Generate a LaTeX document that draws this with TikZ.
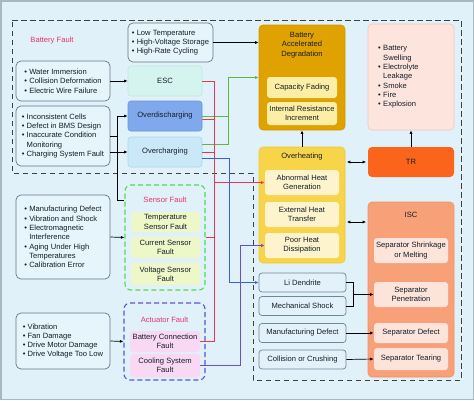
\documentclass[tikz,border=0pt]{standalone}
\usepackage{fontspec}
\setmainfont{Liberation Sans}
\usetikzlibrary{arrows.meta}
\definecolor{bg}{HTML}{E0F1FA}
\definecolor{framec}{HTML}{A9B7C0}
\definecolor{txt}{HTML}{141E28}
\definecolor{bulfill}{HTML}{E6F4FB}
\definecolor{bulline}{HTML}{66788A}
\definecolor{lblpink}{HTML}{E8336E}
\definecolor{escfill}{HTML}{D5F4EF}
\definecolor{escline}{HTML}{BDE8E0}
\definecolor{odfill}{HTML}{80A8EC}
\definecolor{odline}{HTML}{6A92E0}
\definecolor{ocfill}{HTML}{CAE8F8}
\definecolor{ocline}{HTML}{A9D5F0}
\definecolor{degfill}{HTML}{E0A200}
\definecolor{degline}{HTML}{D29600}
\definecolor{deginner}{HTML}{FCEFA5}
\definecolor{ohfill}{HTML}{F8D44A}
\definecolor{ohline}{HTML}{F0C832}
\definecolor{ohinner}{HTML}{FDF3CC}
\definecolor{trfill}{HTML}{FB641B}
\definecolor{iscfill}{HTML}{F8A078}
\definecolor{iscline}{HTML}{F3935F}
\definecolor{iscinner}{HTML}{FDE4DA}
\definecolor{cqfill}{HTML}{FDE5DE}
\definecolor{cqline}{HTML}{F2C4BB}
\definecolor{sensinner}{HTML}{EEF7C8}
\definecolor{actinner}{HTML}{F8D8F2}
\definecolor{gdash}{HTML}{4DDC4D}
\definecolor{pdash}{HTML}{5B55D9}
\definecolor{gline}{HTML}{62B544}
\definecolor{rline}{HTML}{E8384F}
\definecolor{bline}{HTML}{3A5FD8}
\definecolor{pline}{HTML}{6A4FC8}
\definecolor{midfill}{HTML}{E3F1FA}
\definecolor{midline}{HTML}{6F8796}
\newcommand{\bb}{\textbullet\ }
\newcommand{\hb}{\phantom{\textbullet\ }}
\begin{document}
\begin{tikzpicture}[x=1pt,y=-1pt,
  font=\fontsize{7.6}{9.3}\selectfont, text=txt,
  bul/.style={draw=bulline, fill=bulfill, rounded corners=5pt, line width=0.7pt, align=left, inner sep=2pt},
  cbox/.style={rounded corners=3pt, align=center, inner sep=1pt, line width=0.6pt},
  grp/.style={rounded corners=4pt, line width=0.6pt},
  dgrp/.style={rounded corners=6pt, line width=1.1pt, dash pattern=on 5pt off 3pt},
  midbox/.style={draw=midline, fill=midfill, rounded corners=3pt, line width=0.7pt, align=center, inner sep=1pt, minimum width=87pt, minimum height=19pt},
  lbl/.style={text=lblpink, inner sep=1pt},
  arr/.style={-{Latex[length=3.5pt,width=3pt]}, line width=0.7pt},
  arrtwo/.style={{Latex[length=3.5pt,width=3pt]}-{Latex[length=3.5pt,width=3pt]}, line width=0.7pt, shorten >=1.5pt, shorten <=1.5pt},
  conn/.style={line width=0.7pt},
  outer/.style={draw=black!75, line width=0.9pt, dash pattern=on 5.5pt off 3.5pt}
]
\useasboundingbox (0,0) rectangle (474,400);
\fill[bg] (0,0) rectangle (474,400);
\draw[framec, line width=1.5pt] (0.75,0.75) rectangle (473.25,399.25);

% outer dashed region
\draw[outer] (12,20) -- (461,20) -- (461,380) -- (253,380) -- (253,173) -- (12,173) -- cycle;

\node[lbl] (bflabel) at (52,41) {Battery Fault};

% left bullet boxes
\node[bul, minimum width=85pt, minimum height=39pt] (lowT) at (170.5,42.5)
  {\bb Low Temperature\\\bb High-Voltage Storage\\\bb High-Rate Cycling};
\node[bul, minimum width=94pt, minimum height=40pt] (water) at (63,81)
  {\bb Water Immersion\\\bb Collision Deformation\\\bb Electric Wire Failure};
\node[bul, minimum width=94pt, minimum height=60pt] (incons) at (63,136)
  {\bb Inconsistent Cells\\\bb Defect in BMS Design\\\bb Inaccurate Condition\\\hb Monitoring\\\bb Charging System Fault};
\node[bul, minimum width=94pt, minimum height=84pt] (manuf) at (63,237)
  {\bb Manufacturing Defect\\\bb Vibration and Shock\\\bb Electromagnetic\\\hb Interference\\\bb Aging Under High\\\hb Temperatures\\\bb Calibration Error};
\node[bul, minimum width=94pt, minimum height=56pt] (vib) at (63,341)
  {\bb Vibration\\\bb Fan Damage\\\bb Drive Motor Damage\\\bb Drive Voltage Too Low};

% battery fault middle boxes
\node[cbox, draw=escline, fill=escfill, minimum width=74pt, minimum height=30pt] (esc) at (165,81) {ESC};
\node[cbox, draw=odline, fill=odfill, minimum width=74pt, minimum height=30pt] (overdis) at (165,116) {Overdischarging};
\node[cbox, draw=ocline, fill=ocfill, minimum width=74pt, minimum height=30pt] (overch) at (165,152) {Overcharging};

% sensor fault group
\node[dgrp, draw=gdash, minimum width=80pt, minimum height=105pt] (sensor) at (165,237.5) {};
\node[lbl] (sflabel) at (165,200) {Sensor Fault};
\node[cbox, fill=sensinner, minimum width=69pt, minimum height=20pt] (temp) at (165.5,222) {Temperature\\Sensor Fault};
\node[cbox, fill=sensinner, minimum width=69pt, minimum height=21pt] (curr) at (165.5,247.5) {Current Sensor\\Fault};
\node[cbox, fill=sensinner, minimum width=69pt, minimum height=22pt] (volt) at (165.5,274) {Voltage Sensor\\Fault};

% actuator fault group
\node[dgrp, draw=pdash, minimum width=81pt, minimum height=77pt] (act) at (164.5,341.5) {};
\node[lbl] (aflabel) at (164.5,320) {Actuator Fault};
\node[cbox, fill=actinner, minimum width=70pt, minimum height=21pt] (battconn) at (165,341.5) {Battery Connection\\Fault};
\node[cbox, fill=actinner, minimum width=70pt, minimum height=23pt] (cooling) at (165,365.5) {Cooling System\\Fault};

% battery accelerated degradation
\node[grp, draw=degline, fill=degfill, minimum width=86pt, minimum height=105pt] (degr) at (302,77.5) {};
\node[align=center, inner sep=1pt] (degrt) at (302,45) {Battery\\Accelerated\\Degradation};
\node[cbox, fill=deginner, minimum width=70pt, minimum height=21pt] (capfad) at (302,87.5) {Capacity Fading};
\node[cbox, fill=deginner, minimum width=70pt, minimum height=23pt] (intres) at (302,113.5) {Internal Resistance\\Increment};

% consequences
\node[grp, draw=cqline, fill=cqfill, minimum width=86pt, minimum height=106pt, text width=66pt, inner xsep=10pt, align=left] (conseq) at (411,77)
  {\bb Battery\\\hb Swelling\\\bb Electrolyte\\\hb Leakage\\\bb Smoke\\\bb Fire\\\bb Explosion};

% overheating
\node[grp, draw=ohline, fill=ohfill, minimum width=86pt, minimum height=116pt] (overheat) at (302,205) {};
\node[inner sep=1pt] (oht) at (302,157) {Overheating};
\node[cbox, fill=ohinner, minimum width=74pt, minimum height=25pt] (abn) at (302,182.5) {Abnormal Heat\\Generation};
\node[cbox, fill=ohinner, minimum width=74pt, minimum height=25pt] (ext) at (302,214.5) {External Heat\\Transfer};
\node[cbox, fill=ohinner, minimum width=74pt, minimum height=25pt] (poor) at (302,245.5) {Poor Heat\\Dissipation};

% TR
\node[grp, fill=trfill, minimum width=86pt, minimum height=30pt] (tr) at (411,162) {TR};

% ISC
\node[grp, draw=iscline, fill=iscfill, minimum width=86pt, minimum height=175pt] (isc) at (411,289.5) {};
\node[inner sep=1pt] (isct) at (411,215) {ISC};
\node[cbox, fill=iscinner, minimum width=74pt, minimum height=25pt] (shrink) at (411,250.5) {Separator Shrinkage\\or Melting};
\node[cbox, fill=iscinner, minimum width=74pt, minimum height=25pt] (penet) at (411,294.5) {Separator\\Penetration};
\node[cbox, fill=iscinner, minimum width=74pt, minimum height=20pt] (sepdef) at (411,333) {Separator Defect};
\node[cbox, fill=iscinner, minimum width=74pt, minimum height=22pt] (septear) at (411,359) {Separator Tearing};

% middle bottom boxes
\node[midbox] (lid) at (302.5,282.5) {Li Dendrite};
\node[midbox] (mech) at (302.5,306) {Mechanical Shock};
\node[midbox] (mfd) at (302.5,333) {Manufacturing Defect};
\node[midbox] (coll) at (302.5,359.5) {Collision or Crushing};

% helper coordinates
\coordinate (kx) at (117,0);
\coordinate (gx) at (228,0);
\coordinate (rx) at (214,0);
\coordinate (bx) at (229,0);
\coordinate (px) at (240,0);
\coordinate (jx) at (353,0);
\coordinate (dy) at (0,222);

% black connectors (left)
\draw[arr] (water.east) -- (esc.west);
\draw[conn] (incons.east) -- (incons.east -| kx);
\draw[arr] (kx |- overdis.west) -- (overdis.west);
\draw[conn] (kx |- overdis.west) -- (kx |- sflabel) -- (sensor.west |- sflabel);
\draw[arr] (incons.east |- overch.west) -- (overch.west);
\draw[arr] (manuf.east) -- (sensor.west);
\draw[arr] (vib.east) -- (act.west);
\draw[arr] (lowT.east) -- (lowT.east -| degr.west);

% green
\draw[conn, gline] (overdis.east) -- (overdis.east -| gx);
\draw[arr, gline] ([yshift=8pt]overch.east) -| (gx |- degr.west) -- (degr.west);

% red
\draw[conn, rline] (esc.east) -| (rx |- battconn.east) -- (battconn.east);
\draw[conn, rline] ([yshift=-3pt]overdis.east) -- +(12,0);
\draw[conn, rline] (overch.east) -- (overch.east -| rx);
\draw[conn, rline] (sensor.east) -- (sensor.east -| rx);
\draw[arr, rline] (rx |- abn.west) -- (abn.west);

% blue
\draw[arr, bline] ([yshift=-6pt]overch.east) -| (bx |- lid.west) -- (lid.west);

% purple
\draw[arr, pline] (cooling.east) -| (px |- poor.west) -- (poor.west);

% right side
\draw[arr] (overheat.north) -- (degr.south);
\draw[arr] (tr.north) -- (conseq.south);
\draw[arrtwo] (overheat.east |- tr.west) -- (tr.west);
\draw[arrtwo] (overheat.east |- dy) -- (isc.west |- dy);
\draw[conn] (lid.east) -| (jx |- mech.east) -- (mech.east);
\draw[arr] (jx |- penet.west) -- (penet.west);
\draw[arr] (mfd.east) -- (sepdef.west);
\draw[arr] (coll.east) -- (septear.west);
\end{tikzpicture}
\end{document}
